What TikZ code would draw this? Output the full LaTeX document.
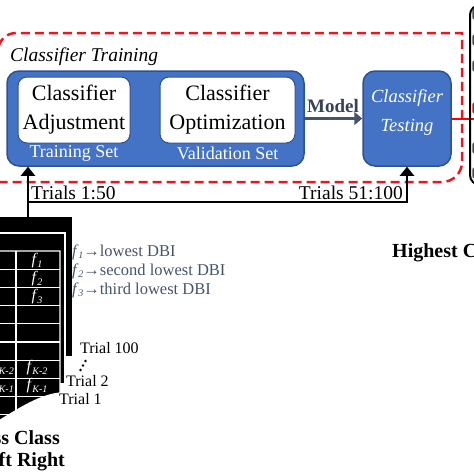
\documentclass[tikz,border=0pt]{standalone}
\usepackage{fontspec}
\setmainfont{Liberation Serif}
\usetikzlibrary{calc,arrows.meta}

\definecolor{boxblue}{HTML}{4472C4}
\definecolor{boxedge}{HTML}{2F528F}
\definecolor{slate}{HTML}{44546A}
\definecolor{dashred}{HTML}{F0141E}

\newcommand{\fsub}[1]{\textit{f}\kern-0.3pt\raisebox{-0.35ex}{\fontsize{10}{10}\selectfont\textit{#1}}}
\newcommand{\toarrow}{\textbf{→}}

\tikzset{
  bluebox/.style={draw=boxedge, fill=boxblue, line width=1.5pt, rounded corners=12pt},
  whitebox/.style={draw=boxedge, fill=white, line width=1pt, rounded corners=9pt,
    minimum height=66pt, align=center, font=\fontsize{22}{29}\selectfont},
  setlabel/.style={text=white, font=\fontsize{18}{18}\selectfont},
  modelarrow/.style={draw=slate, line width=3pt, -{Triangle[width=13pt,length=8pt]}},
  trialarrow/.style={line width=2pt, -{Triangle[width=14pt,length=9pt]}},
  trialtext/.style={font=\fontsize{19.5}{19.5}\selectfont},
  pagetext/.style={anchor=west, font=\fontsize{16}{16}\selectfont},
  celltext/.style={text=white, font=\fontsize{16}{16}\selectfont},
  legend/.style={text=slate, anchor=west, font=\fontsize{16.5}{16.5}\selectfont},
  boldtext/.style={font=\bfseries\fontsize{20}{20}\selectfont},
  gridline/.style={white, line width=1.3pt},
}

\begin{document}
\begin{tikzpicture}[x=1pt, y=-1pt, inner sep=0pt]
\useasboundingbox (0,0) rectangle (474,474);
\clip (0,0) rectangle (474,474);

% training group
\draw[dashred, line width=2.5pt, dash pattern=on 9pt off 5pt]
  (-2,200) -- (-2,51) arc[start angle=180, end angle=270, radius=18] -- (462,33)
  -- (462,162) arc[start angle=0, end angle=90, radius=20] -- (-10,182);
\node[anchor=west, font=\itshape\fontsize{19.5}{19.5}\selectfont] (group) at (10,57) {Classifier Training};

\node[bluebox, minimum width=297pt, minimum height=95pt] (train) at (155.5,118.5) {};
\node[whitebox, minimum width=112pt] (adjust) at (74,110) {Classifier\\Adjustment};
\node[whitebox, minimum width=135pt] (optim) at (227.5,110) {Classifier\\Optimization};
\node[setlabel] (trainset) at (74,153) {Training Set};
\node[setlabel] (valset) at (227.5,153) {Validation Set};

\node[bluebox, minimum width=88pt, minimum height=95pt] (test) at (407,118.5) {};
\node[text=white, align=center, font=\itshape\fontsize{18.5}{29}\selectfont] (testlbl)
  at ($(test.center)+(0,-6)$) {Classifier\\Testing};

\draw[modelarrow] (train.east) -- (test.west);
\node[text=slate!80!black, font=\bfseries\fontsize{19}{19}\selectfont] (model) at (333,106) {Model};

% result panel
\coordinate (out) at (480,118.5);
\draw[red, line width=2pt] (test.east) -- (out);
\draw[line width=2pt, rounded corners=10pt] (470,5) rectangle (530,185);
\foreach \y in {14,40,66,148,173}
  \draw[black!70, line width=1.5pt, rounded corners=2pt] (473,\y-5) rectangle (486,\y+5);
\draw[red, line width=1.5pt, rounded corners=2pt] (473,103) rectangle (486,113);
\node[boldtext, anchor=west] (best) at (392,253) {Highest C};

% trial stack
\node[fill=black, minimum width=92pt, minimum height=139pt] (trial100) at (26,286.5) {};
\filldraw[draw=white, line width=1.3pt] (-20,233) rectangle (65,384);
\filldraw[draw=white, line width=1.3pt] (-20,251) -- (60,251) -- (60,393)
  .. controls (35,396) and (15,412) .. (-20,432) -- cycle;
\begin{scope}
  \clip (-20,251) -- (60,251) -- (60,393) .. controls (35,396) and (15,412) .. (-20,432) -- cycle;
  \foreach \k in {1,...,9}
    \draw[gridline] (-20,{251+18.2*\k}) -- (60,{251+18.2*\k});
  \draw[gridline] (16,251) -- (16,440);
\end{scope}
\node[celltext] (f1) at (37,261) {\fsub{1}};
\node[celltext] (f2) at (37,279) {\fsub{2}};
\node[celltext] (f3) at (37,297) {\fsub{3}};
\node[celltext] (fk2) at (37,368) {\fsub{K-2}};
\node[celltext] (fk1) at (37,386) {\fsub{K-1}};
\node[celltext, anchor=east] (ck2) at (14,368) {\fsub{K-2}};
\node[celltext, anchor=east] (ck1) at (14,386) {\fsub{K-1}};

\node[legend] (l1) at (72,252) {\fsub{1}\toarrow lowest DBI};
\node[legend] (l2) at (72,271) {\fsub{2}\toarrow second lowest DBI};
\node[legend] (l3) at (72,290) {\fsub{3}\toarrow third lowest DBI};

\node[pagetext] (p100) at (80,348) {Trial 100};
\node[pagetext] (p2) at (66,381) {Trial 2};
\node[pagetext] (p1) at (59,399) {Trial 1};
\foreach \p in {(80.5,370),(83,365.5),(85.5,361)}
  \fill \p circle (1.4);

\node[boldtext, anchor=east] (cls) at (60,438) {Class Class};
\node[boldtext, anchor=east] (side) at (65,462) {Left Right};

% trial split
\coordinate (fork) at (28,202);
\draw[trialarrow] (trial100.north -| fork) -- (train.south -| fork);
\draw[trialarrow] (fork) -- (fork -| test.south) -- (test.south);
\node[trialtext, anchor=base west] (first) at (31,199) {Trials 1:50};
\node[trialtext, anchor=base east] (second) at (403,199) {Trials 51:100};
\end{tikzpicture}
\end{document}
